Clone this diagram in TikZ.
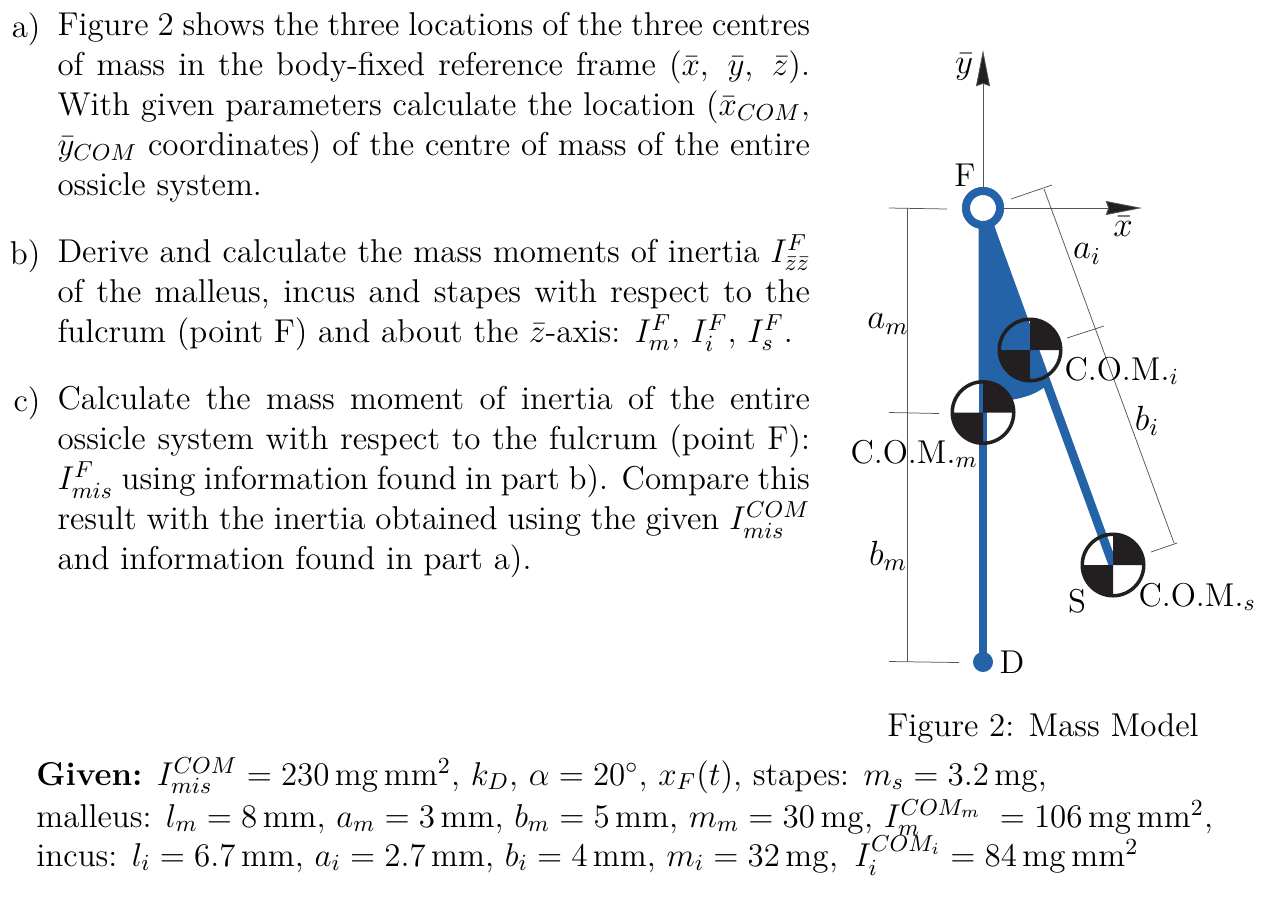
\documentclass[tikz,border=0pt]{standalone}
\usepackage{fix-cm}
\usepackage{amsmath,amssymb}
\usepackage{tikz}
\usetikzlibrary{arrows.meta}
\definecolor{ossblue}{RGB}{37,99,169}
\definecolor{ossblack}{RGB}{35,31,32}
\definecolor{dimgray}{RGB}{85,85,85}
\normallineskiplimit=-30pt
\lineskiplimit=-30pt
\tikzset{
  textpar/.style={anchor=north west, inner sep=0pt, text width=301pt, align=justify, font=\fontsize{13.2}{16}\selectfont},
  partag/.style={anchor=north east, inner sep=0pt, font=\fontsize{13.2}{16}\selectfont},
  givenline/.style={anchor=base west, inner sep=0pt, font=\fontsize{13.2}{16}\selectfont},
  figlabel/.style={inner sep=0pt, font=\fontsize{13.2}{16}\selectfont},
  mathlabel/.style={inner sep=0pt, font=\fontsize{14}{16}\selectfont},
  dimline/.style={draw=dimgray, line width=0.3pt},
  axisline/.style={draw=dimgray, line width=0.35pt},
  comdisc/.style={circle, fill=white, inner sep=0pt, minimum size=25.6pt},
  pivot/.style={circle, draw=ossblue, fill=white, line width=3.2pt, inner sep=0pt, minimum size=13.6pt},
  axistip/.style={-{Stealth[length=14.5pt, width=5.6pt, inset=1pt, fill=ossblack]}}
}
\newcommand{\commark}[1]{%
  \fill[ossblack] (#1.center) -- ++(12.6pt,0) arc[start angle=0, end angle=90, radius=12.6pt] -- cycle;
  \fill[ossblack] (#1.center) -- ++(-12.6pt,0) arc[start angle=180, end angle=270, radius=12.6pt] -- cycle;
  \draw[ossblack, line width=1.4pt] (#1.center) circle[radius=12.3pt];
}
\begin{document}
\begin{tikzpicture}[x=0.4pt, y=-0.4pt]
\useasboundingbox (0,0) rectangle (1285,903);

% Part a
\node[partag] (taga) at (41,12) {a)};
\node[textpar] (para) at (57,12) {Figure 2 shows the three locations of the three centres\linebreak
of mass in the body-fixed reference frame $(\bar{x},\ \bar{y},\ \bar{z})$.\linebreak
With given parameters calculate the location ($\bar{x}_{COM}$,\linebreak
$\bar{y}_{COM}$ coordinates) of the centre of mass of the entire\linebreak
ossicle system.};

% Part b
\node[partag] (tagb) at (41,239) {b)};
\node[textpar] (parb) at (57,234.5) {Derive and calculate the mass moments of inertia $I^{F}_{\bar{z}\bar{z}}$\linebreak
of the malleus, incus and stapes with respect to the\linebreak
fulcrum (point F) and about the $\bar{z}$-axis: $I^{F}_{m}$, $I^{F}_{i}$, $I^{F}_{s}$.};

% Part c
\node[partag] (tagc) at (41,386) {c)};
\node[textpar] (parc) at (57,386) {Calculate the mass moment of inertia of the entire\linebreak
ossicle system with respect to the fulcrum (point F):\linebreak
$I^{F}_{mis}$ using information found in part b). Compare this\linebreak
result with the inertia obtained using the given $I^{COM}_{mis}$\linebreak
and information found in part a).};

% Given
\node[givenline] (given) at (36,785) {\textbf{Given:} $I^{COM}_{mis}=230\,\mathrm{mg\,mm^2}$, $k_D$, $\alpha=20^{\circ}$, $x_F(t)$, stapes: $m_s=3.2\,\mathrm{mg}$,};
\node[givenline] (malleus) at (36,827) {malleus: $l_m=8\,\mathrm{mm}$, $a_m=3\,\mathrm{mm}$, $b_m=5\,\mathrm{mm}$, $m_m=30\,\mathrm{mg}$, $I^{COM_m}_{m}\;=106\,\mathrm{mg\,mm^2}$,};
\node[givenline] (incus) at (36,866) {incus: $l_i=6.7\,\mathrm{mm}$, $a_i=2.7\,\mathrm{mm}$, $b_i=4\,\mathrm{mm}$, $m_i=32\,\mathrm{mg}$, \,$I^{COM_i}_{i}=84\,\mathrm{mg\,mm^2}$};

% Caption
\node[figlabel] (caption) at (1043,728) {Figure 2: Mass Model};

% Dimension lines
\coordinate (amtop) at (907,208);
\coordinate (ammid) at (907,412.5);
\coordinate (ambot) at (907,662);
\draw[dimline] (amtop) -- (ambot);
\draw[dimline] (889,208) -- (947,209);
\draw[dimline] (889,412.5) -- (939,413.5);
\draw[dimline] (889,661.5) -- (959,662.5);
\coordinate (aitop) at (1044,189);
\coordinate (aibot) at (1174,543);
\draw[dimline] (aitop) -- (aibot);
\draw[dimline] (1011,199) -- (1052,185);
\draw[dimline] (1067,338) -- (1104,326);
\draw[dimline] (1151,552) -- (1177,543);

% Discs behind the bones
\node[comdisc] (comi) at (1030,350) {};
\node[comdisc] (coms) at (1113,565) {};

% Incus body
\fill[ossblue] (978.5,225) -- (994,225) -- (1046,386) .. controls (1036,394) and (1024,398) .. (1010,400) -- (978.5,400) -- cycle;

% Malleus and stapes rods
\node[comdisc] (comm) at (983,412.5) {};
\node[circle, fill=ossblue, inner sep=0pt, minimum size=8pt] (D) at (983,662) {};
\node[pivot] (F) at (983,208) {};
\draw[ossblue, line width=3.2pt] (F.center) -- (D.center);
\draw[ossblue, line width=3.5pt] (F.center) -- (coms.center);
\node[pivot] (Ftop) at (F.center) {};

% Centre of mass marks
\commark{comi}
\commark{comm}
\commark{coms}

% Axes
\coordinate (ytip) at (983,50);
\coordinate (xtip) at (1142,208);
\draw[axisline, axistip] (Ftop) -- (ytip);
\draw[axisline, axistip] (Ftop) -- (xtip);

% Labels
\node[mathlabel] (ylab) at (964,67) {$\bar{y}$};
\node[mathlabel] (xlab) at (1123,227) {$\bar{x}$};
\node[figlabel] (flab) at (965,175) {F};
\node[figlabel] (dlab) at (1012,662) {D};
\node[figlabel] (slab) at (1077,601) {S};
\node[mathlabel] (ailab) at (1087,254) {$a_i$};
\node[mathlabel] (bilab) at (1147,421) {$b_i$};
\node[mathlabel] (amlab) at (888,324) {$a_m$};
\node[mathlabel] (bmlab) at (888,556) {$b_m$};
\node[figlabel, anchor=base west] (comilab) at (1064,380) {C.O.M.$_i$};
\node[figlabel, anchor=base west] (commlab) at (850,463) {C.O.M.$_m$};
\node[figlabel, anchor=base west] (comslab) at (1138,606) {C.O.M.$_s$};
\end{tikzpicture}
\end{document}
